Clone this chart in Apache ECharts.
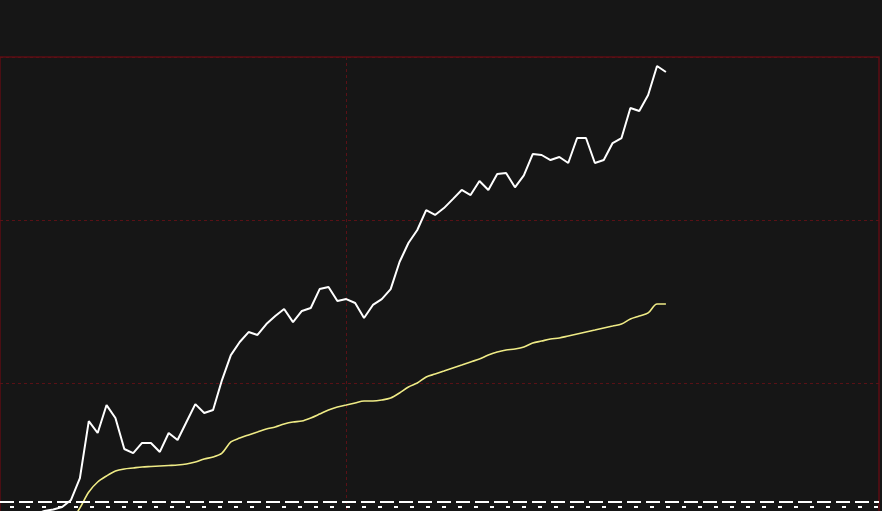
<!DOCTYPE html>
<html>
<head>
<meta charset="utf-8">
<script src="https://cdn.jsdelivr.net/npm/echarts@6/dist/echarts.min.js"></script>
<style>
html,body{margin:0;padding:0;background:#161616;}
#chart{width:882px;height:511px;}
</style>
</head>
<body>
<div id="chart"></div>
<script>
// categories (hidden labels): 100 periods
var categories = [];
for (var k = 0; k < 100; k++) { categories.push('P' + (k + 1)); }

// white series (index 0..75)
var whiteValues = [null, null, null, 18.4, 20.2, 22.0, 23.0, 24.5, 28.8, 42.2,
  77.1, 69.8, 86.9, 79.0, 60.0, 57.5, 63.7, 63.7, 58.2, 69.8,
  65.5, 76.5, 87.5, 82.0, 83.9, 102.2, 117.5, 125.5, 131.6, 129.8,
  136.5, 141.4, 145.7, 137.7, 144.5, 146.3, 157.9, 159.2, 150.6, 151.8,
  149.4, 140.2, 148.2, 151.8, 157.9, 174.5, 186.1, 194.1, 206.3, 203.3,
  207.5, 213.0, 218.6, 215.5, 224.1, 218.6, 228.4, 229.0, 220.2, 227.5,
  240.6, 240.0, 236.9, 238.8, 235.1, 250.4, 250.4, 235.1, 236.9, 247.3,
  250.4, 268.8, 266.9, 276.7, 294.5, 290.8];

// yellow series (index 0..75)
var yellowValues = [null, null, null, null, null, null, null, null, 15.3, 23.9,
  33.7, 39.8, 43.5, 46.5, 47.8, 48.4, 49.0, 49.3, 49.6, 49.9,
  50.2, 50.8, 52.0, 53.9, 55.1, 57.5, 64.3, 66.7, 68.6, 70.4,
  72.2, 73.5, 75.3, 76.5, 77.1, 79.0, 81.4, 83.9, 85.7, 86.9,
  88.2, 89.4, 89.4, 90.0, 91.2, 94.3, 98.0, 100.4, 104.1, 105.9,
  107.7, 109.6, 111.4, 113.3, 115.1, 117.5, 119.4, 120.6, 121.2, 122.4,
  124.9, 126.1, 127.3, 128.0, 129.2, 130.4, 131.6, 132.8, 134.1, 135.3,
  136.5, 139.6, 141.4, 143.3, 148.8, 148.8];

// reference levels drawn as dashed white lines near the bottom
var baseLevels = [27.5, 24.5];

// y ticks
var yMin = 0, yMax = 300, yInterval = 100;
var xSplitIndex = 39;

var chart = echarts.init(document.getElementById('chart'), null, {renderer: 'canvas'});
var option = {
  backgroundColor: '#161616',
  animation: false,
  grid: {
    left: 0, right: 3, top: 57, height: 490,
    outerBoundsMode: 'none',
    containLabel: false,
    show: true,
    borderColor: '#5e0c13',
    borderWidth: 1.5,
    backgroundColor: 'transparent'
  },
  xAxis: {
    type: 'category',
    data: categories,
    boundaryGap: false,
    axisLine: {show: false},
    axisTick: {show: false},
    axisLabel: {show: false},
    splitLine: {
      show: true,
      interval: function (index) { return index === xSplitIndex; },
      lineStyle: {color: '#5a1116', type: [3, 3], width: 1}
    }
  },
  yAxis: {
    type: 'value',
    min: yMin, max: yMax, interval: yInterval,
    axisLine: {show: false},
    axisTick: {show: false},
    axisLabel: {show: false},
    splitLine: {
      show: true,
      lineStyle: {color: '#5a1116', type: [3, 3], width: 1}
    }
  },
  series: [
    {
      type: 'line',
      data: yellowValues,
      symbol: 'none',
      smooth: 0.3,
      lineStyle: {color: '#efeb86', width: 1.6},
      z: 3
    },
    {
      type: 'line',
      data: whiteValues,
      symbol: 'none',
      lineStyle: {color: '#ffffff', width: 2},
      z: 4,
      markLine: {
        silent: true,
        symbol: 'none',
        label: {show: false},
        data: [
          {yAxis: baseLevels[0], lineStyle: {color: '#ffffff', type: [14, 5], width: 2}},
          {yAxis: baseLevels[1], lineStyle: {color: '#ffffff', type: [4, 12], width: 2, dashOffset: 6}}
        ]
      }
    }
  ]
};
chart.setOption(option);
</script>
</body>
</html>
